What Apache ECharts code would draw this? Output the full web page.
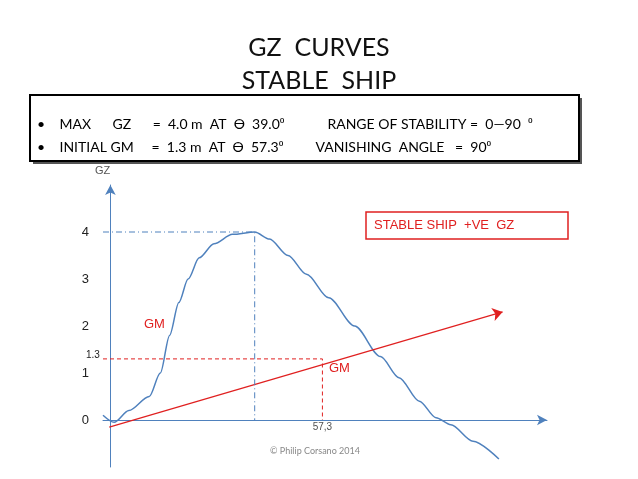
<!DOCTYPE html><html><head><meta charset="utf-8">
<script src="https://cdn.jsdelivr.net/npm/echarts@6/dist/echarts.min.js"></script>
<style>html,body{margin:0;background:#fff}#c{width:638px;height:479px}</style></head><body><div id="c"></div>
<script>
const gzCurve=[[-2,0.1],[1,-0.05],[5,0.2],[10.5,0.5],[13.5,1.0],[16,1.8],[18.5,2.5],[21,3.0],[24,3.45],[28,3.75],[33,3.95],[39,4.0],[43,3.85],[48,3.5],[53,3.1],[59,2.6],[66,2.0],[73,1.35],[78,0.9],[83.5,0.4],[88,0.05],[92,-0.1],[98,-0.45],[105,-0.83]];
const gmLine=[[-0.3,-0.15],[106,2.3]];
const maxGz=[39,4.0];
const gmPoint=[57.3,1.3];
const xTicks=[10,20,30,40,50,60,70,80,90];
const yTicks=[0,1,2,3,4];
const ch=echarts.init(document.getElementById('c'));
const F='Liberation Sans';
ch.setOption({
 animation:false,
 grid:{left:103,right:91,top:185,bottom:6},
 xAxis:{type:'value',min:-2,max:118,interval:10,axisLine:{onZero:true,lineStyle:{color:'#4f81bd'},symbol:['none','arrow'],symbolSize:[8,10]},axisTick:{show:false},splitLine:{show:false},
  axisLabel:{show:true,inside:false,formatter:v=>xTicks.includes(v)?String(v):'',color:'#222',fontSize:10,fontFamily:F,margin:12}},
 yAxis:{type:'value',min:-1,max:5,interval:1,axisLine:{onZero:true,lineStyle:{color:'#4f81bd'},symbol:['none','arrow'],symbolSize:[8,10]},axisTick:{show:false},splitLine:{show:false},
  axisLabel:{formatter:v=>yTicks.includes(v)?String(v):'',color:'#222',fontSize:13,fontFamily:F,margin:14}},
 title:[{text:'GZ  CURVES',left:'center',top:30,textStyle:{fontFamily:'Lato',fontWeight:'normal',fontSize:25,color:'#111'}},
  {text:'STABLE  SHIP',left:'center',top:63,textStyle:{fontFamily:'Lato',fontWeight:'normal',fontSize:25,color:'#111'}}],
 graphic:[
  {type:'rect',shape:{x:33,y:98,width:549,height:66},style:{fill:'#555'}},
  {type:'rect',shape:{x:30,y:95,width:549,height:66},style:{fill:'#fff',stroke:'#000',lineWidth:2}},
  {type:'text',left:37,top:117,style:{text:'•    MAX      GZ      =  4.0 m  AT  Ɵ  39.0⁰            RANGE OF STABILITY =  0—90  ⁰',font:'14px Lato',fill:'#000'}},
  {type:'text',left:37,top:140,style:{text:'•    INITIAL GM     =  1.3 m  AT  Ɵ  57.3⁰         VANISHING  ANGLE   =  90⁰',font:'14px Lato',fill:'#000'}},
  {type:'text',left:95,top:165,style:{text:'GZ',font:'11px Liberation Sans',fill:'#555'}},
  {type:'rect',shape:{x:366,y:212,width:202,height:27},style:{fill:'#fff',stroke:'#e02020',lineWidth:1.5}},
  {type:'text',left:374,top:219,style:{text:'STABLE SHIP  +VE  GZ',font:'13px Liberation Sans',fill:'#e02020'}},
  {type:'text',left:144,top:318,style:{text:'GM',font:'13px Liberation Sans',fill:'#e02020'}},
  {type:'text',left:329,top:362,style:{text:'GM',font:'13px Liberation Sans',fill:'#e02020'}},
  {type:'text',left:86,top:350,style:{text:'1.3',font:'10px Liberation Sans',fill:'#222'}},
  {type:'text',left:270,top:447,style:{text:'© Philip Corsano 2014',font:'9px Lato',fill:'#888'}}
 ],
 series:[
  {type:'line',data:gzCurve,smooth:0.3,smoothMonotone:'x',symbol:'none',lineStyle:{color:'#4f81bd',width:1.5}},
  {type:'line',data:[{value:gmLine[0],symbol:'none'},{value:gmLine[1],symbol:'arrow',symbolSize:10,symbolRotate:-75}],showSymbol:true,itemStyle:{color:'#e02020'},lineStyle:{color:'#e02020',width:1.2}},
  {type:'line',data:[[-2,maxGz[1]],maxGz,[maxGz[0],0]],symbol:'none',lineStyle:{color:'#4f81bd',width:1,type:[6,3,1,3]}},
  {type:'line',data:[[-2,gmPoint[1]],gmPoint,[gmPoint[0],0]],symbol:'none',lineStyle:{color:'#e02020',width:1,type:[4,3]}},
  {type:'scatter',data:[[gmPoint[0],0]],symbolSize:0,label:{show:true,formatter:'57,3',position:'bottom',distance:2,color:'#222',fontSize:10,fontFamily:F}}
 ]
});
</script></body></html>
